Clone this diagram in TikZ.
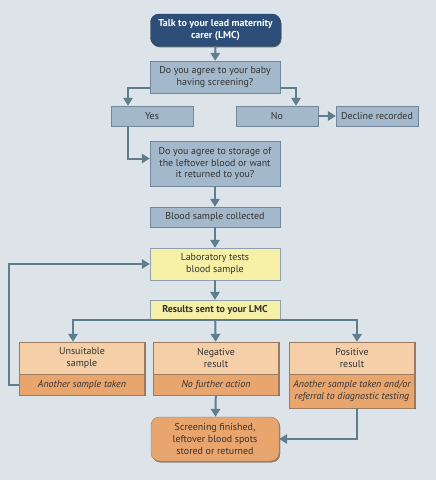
\documentclass[tikz,border=0pt]{standalone}
\usepackage{fontspec}
\setmainfont{PT Sans}
\usepackage{tikz}
\usetikzlibrary{calc,arrows.meta,positioning,shadows}
\definecolor{bgc}{HTML}{DDE4E9}
\definecolor{navyc}{HTML}{2C4E78}
\definecolor{qc}{HTML}{A3B8CA}
\definecolor{edgec}{HTML}{72879A}
\definecolor{shadc}{HTML}{56697A}
\definecolor{yelc}{HTML}{F6F0A6}
\definecolor{lorc}{HTML}{F5CFA8}
\definecolor{dorc}{HTML}{E9A56E}
\definecolor{oedge}{HTML}{9C7A5E}
\definecolor{arrc}{HTML}{5E7E8E}
\tikzset{
  ar/.style={-{Triangle[length=2.4mm,width=2.8mm]},line width=0.6mm,arrc},
  box/.style={draw=edgec,line width=0.3pt,fill=qc,align=center,inner sep=1pt,
    minimum width=39mm,text=black!80,font=\fontsize{8.5}{10}\selectfont,
    drop shadow={shadow xshift=0.3mm,shadow yshift=-0.4mm,opacity=1,fill=shadc}},
  startbox/.style={box,draw=navyc!70!black,fill=navyc,text=white,rounded corners=2.5mm,
    font=\fontsize{8.5}{10}\selectfont\bfseries,minimum height=9.6mm},
  ansbox/.style={box,minimum width=24.6mm,minimum height=6mm},
  labbox/.style={box,fill=yelc,draw=edgec!80},
  resbox/.style={box,fill=lorc,draw=oedge,minimum width=37.5mm,minimum height=9.6mm,
    drop shadow={shadow xshift=0.3mm,shadow yshift=0mm,opacity=1,fill=oedge}},
  actbox/.style={resbox,fill=dorc,font=\fontsize{8.5}{10}\selectfont\itshape},
  endbox/.style={box,fill=dorc,draw=oedge,rounded corners=2.5mm,minimum width=38.4mm,
    minimum height=13.2mm,drop shadow={shadow xshift=0.3mm,shadow yshift=-0.4mm,opacity=1,fill=oedge}}
}
\begin{document}
\begin{tikzpicture}[x=0.3mm,y=-0.3mm]
\fill[bgc] (0,0) rectangle (436,480);
\useasboundingbox (0,0) rectangle (436,480);
% top of the chart
\node[startbox] (talk) at (215.5,30) {Talk to your lead maternity\\carer (LMC)};
\node[box,minimum height=9.6mm] (agree) at (215,77) {Do you agree to your baby\\having screening?};
\node[ansbox] (yes) at (152,116) {Yes};
\node[ansbox] (no) at (277,116) {No};
\node[ansbox] (decline) at (377,116) {Decline recorded};
\node[box,minimum height=13.5mm] (store) at (215,163.5) {Do you agree to storage of\\the leftover blood or want\\it returned to you?};
\node[box,minimum height=6mm] (blood) at (215,217) {Blood sample collected};
\node[labbox,minimum height=9.6mm] (lab) at (215,264) {Laboratory tests\\blood sample};
\node[labbox,minimum height=6mm,font=\fontsize{8.5}{10}\selectfont\bfseries] (results) at (215,310) {Results sent to your LMC};
% results
\node[resbox] (unsuit) at (82,358) {Unsuitable\\sample};
\node[actbox,minimum height=6.3mm] (unsuitact) at (82,384.5) {Another sample taken};
\node[resbox] (neg) at (216,358) {Negative\\result};
\node[actbox,minimum height=6.3mm] (negact) at (216,384.5) {No further action};
\node[resbox] (pos) at (352,358) {Positive\\result};
\node[actbox,minimum height=10.2mm] (posact) at (352,391) {Another sample taken and/or\\referral to diagnostic testing};
\node[endbox] (final) at (215,439) {Screening finished,\\leftover blood spots\\stored or returned};
% connectors
\draw[ar] (talk) -- (agree);
\draw[ar] ($(agree.south west)+(0,-5)$) -| ($(yes.north)+(-24,0)$);
\draw[ar] ($(agree.south east)+(0,-5)$) -| ($(no.north)+(19,0)$);
\draw[ar] (no) -- (decline);
\draw[ar] ($(yes.south)+(-24,0)$) |- ($(store.west)+(0,-5)$);
\draw[ar] (store) -- (blood);
\draw[ar] (blood) -- (lab);
\draw[ar] (lab) -- (results);
\draw[ar] (results.south) -| ($(unsuit.north)+(-9,0)$);
\draw[ar] (results.south) -| ($(pos.north)+(5,0)$);
\draw[ar] (results) -- (neg);
\draw[ar] (unsuitact.west) -- ++(-10,0) |- (lab.west);
\draw[ar] (negact) -- (final);
\draw[ar] ($(posact.south)+(5,0)$) |- (final.east);
\end{tikzpicture}
\end{document}
